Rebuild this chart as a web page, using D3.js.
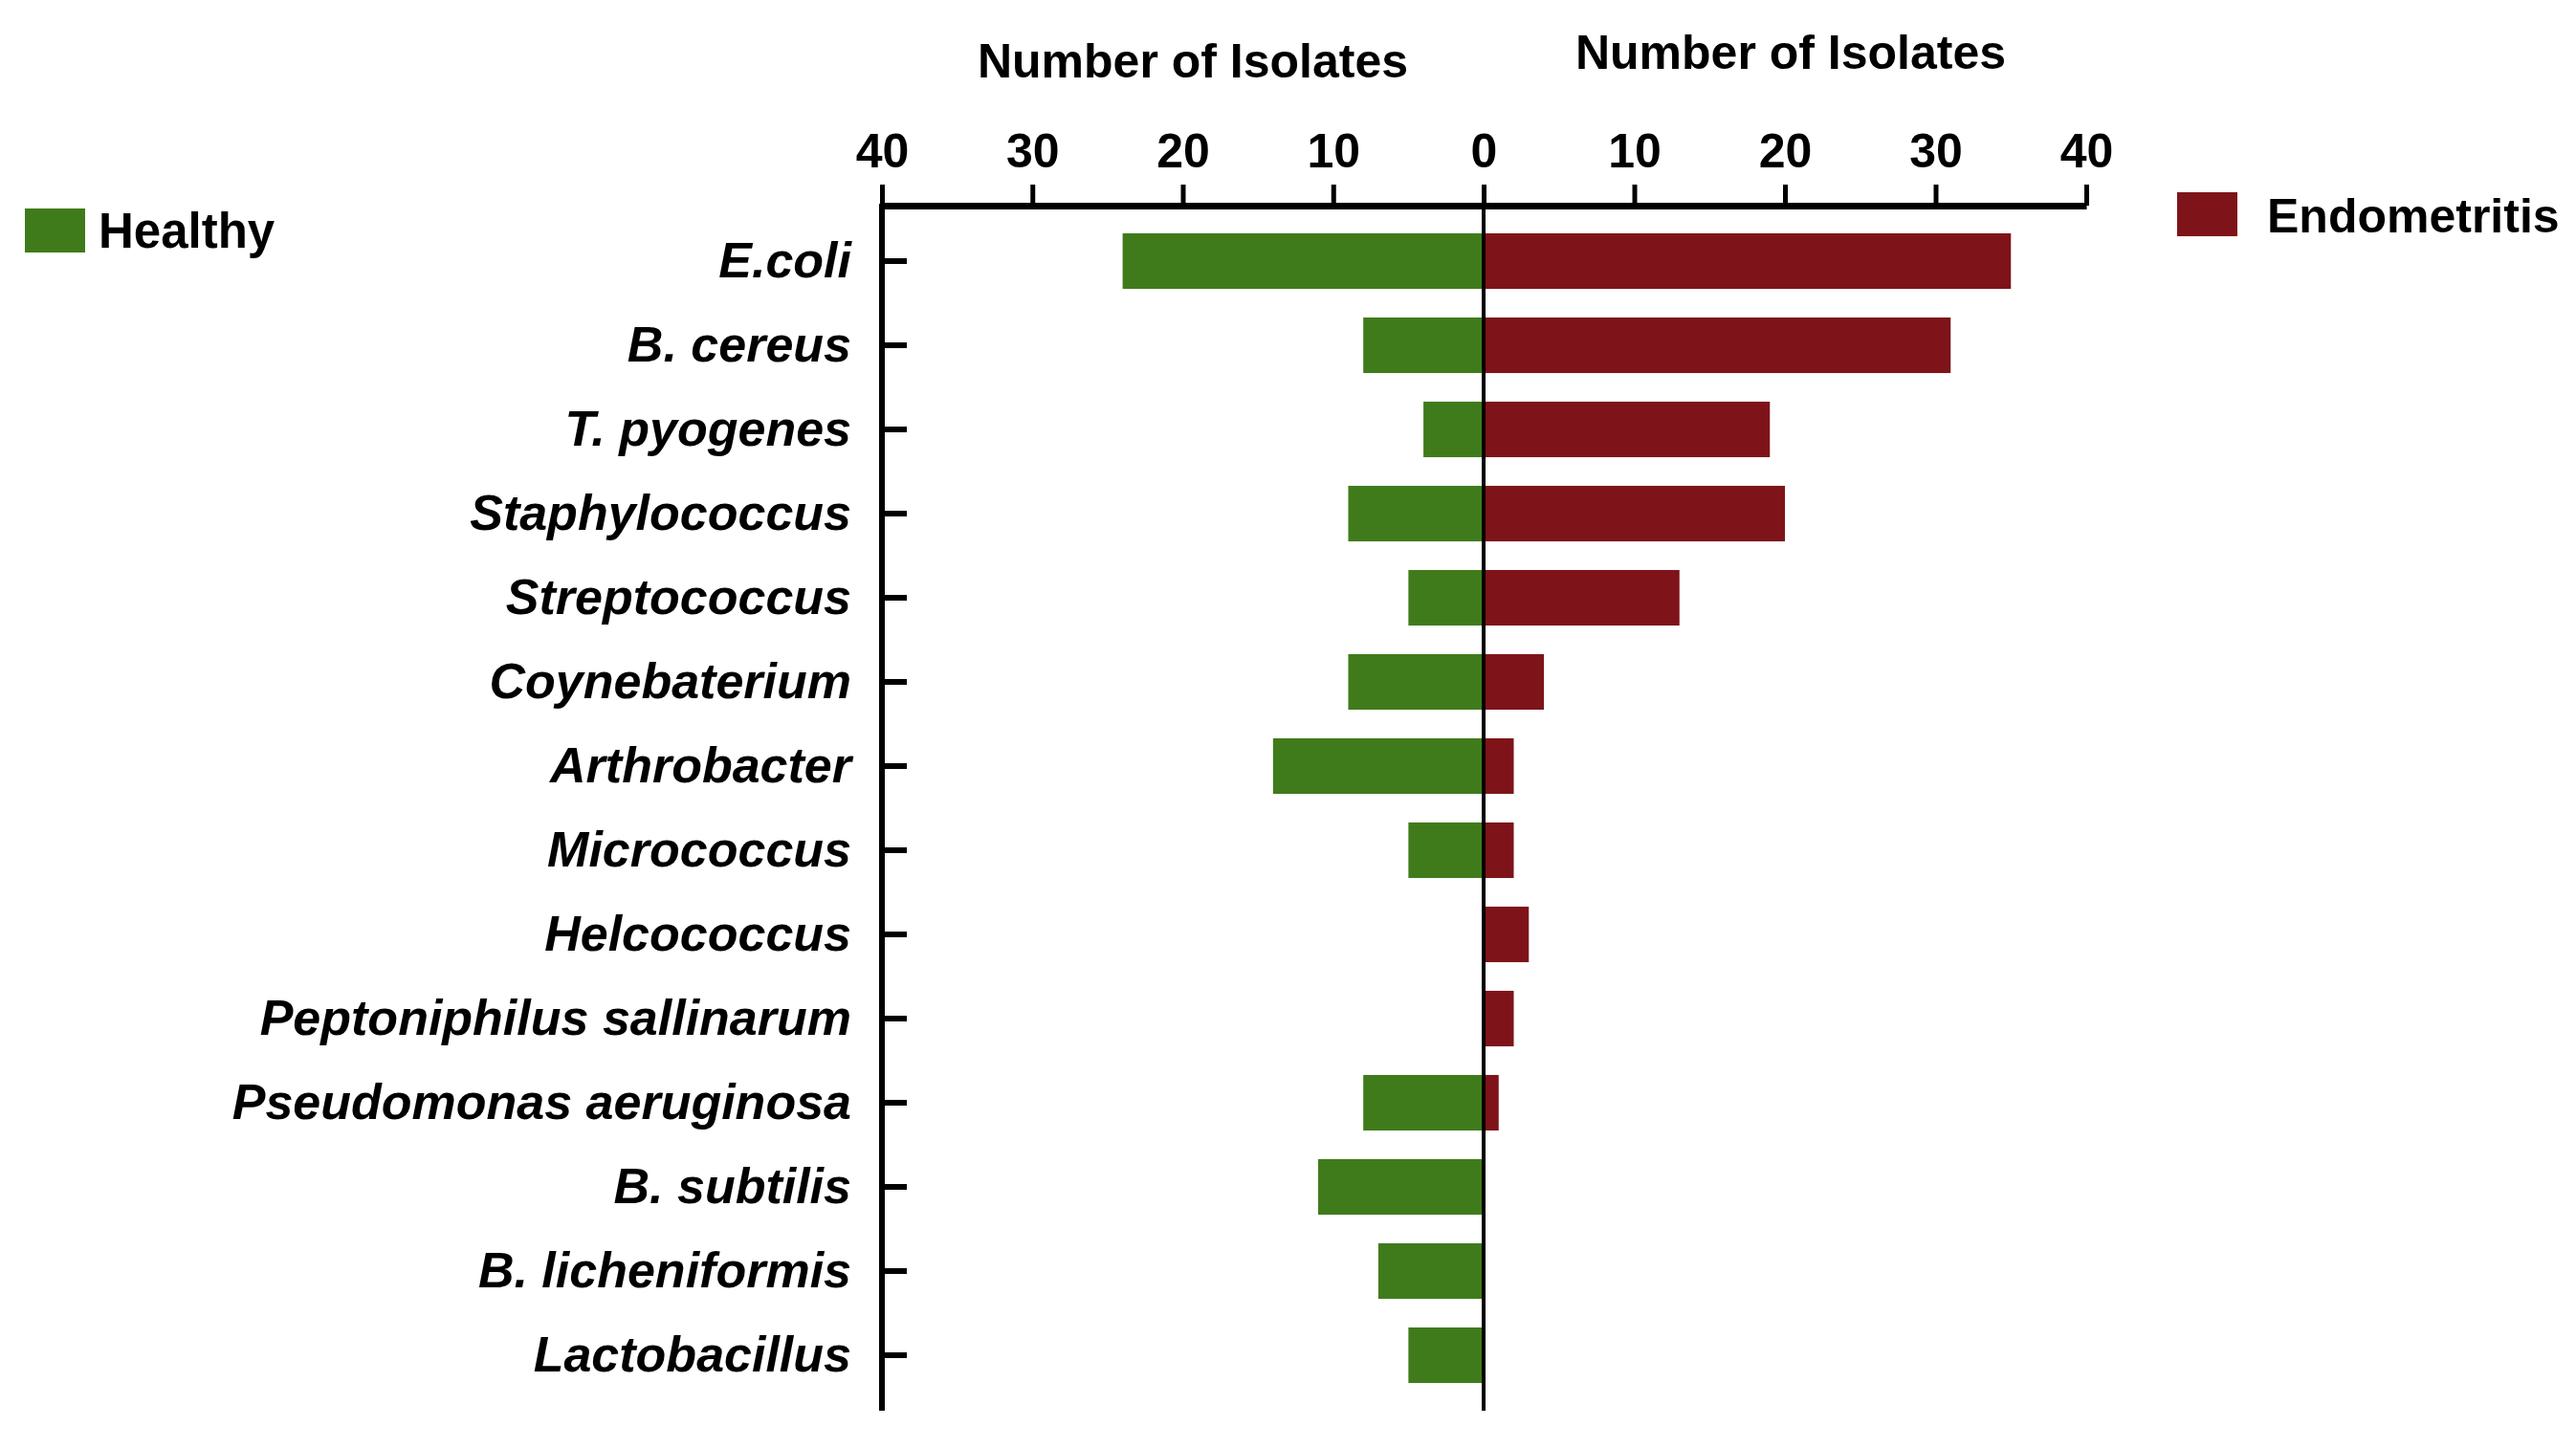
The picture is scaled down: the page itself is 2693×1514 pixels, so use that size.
<!DOCTYPE html>
<html>
<head>
<meta charset="utf-8">
<script src="https://cdn.jsdelivr.net/npm/d3@7"></script>
<style>
html,body{margin:0;padding:0;background:#fff;}
svg{display:block;}
text{font-family:"Liberation Sans",Arial,Helvetica,sans-serif;}
</style>
</head>
<body>
<svg id="chart" width="2693" height="1514"></svg>
<script>
const categories = ["E.coli","B. cereus","T. pyogenes","Staphylococcus","Streptococcus","Coynebaterium","Arthrobacter","Micrococcus","Helcococcus","Peptoniphilus sallinarum","Pseudomonas aeruginosa","B. subtilis","B. licheniformis","Lactobacillus"];
const healthy = [24, 8, 4, 9, 5, 9, 14, 5, 0, 0, 8, 11, 7, 5];
const endometritis = [35, 31, 19, 20, 13, 4, 2, 2, 3, 2, 1, 0, 0, 0];
const tickValues = [0, 10, 20, 30, 40];
const seriesNames = ["Healthy", "Endometritis"];
const axisTitle = "Number of Isolates";

const GREEN = "#3f7b1b", RED = "#7e1419";
const svg = d3.select("#chart");

const leftX = 922, zeroX = 1551, rightX = 2181;
const axisY = 215, bottomY = 1475;

const xL = d3.scaleLinear().domain([0, 40]).range([zeroX, leftX]);
const xR = d3.scaleLinear().domain([0, 40]).range([zeroX, rightX]);
const y = d3.scaleBand().domain(categories).range([229, 1461]).paddingInner(0.34).paddingOuter(0.17);

// bars
svg.append("g").selectAll("rect").data(categories).join("rect")
  .attr("x", (d,i) => xL(healthy[i]))
  .attr("y", d => y(d))
  .attr("width", (d,i) => zeroX - xL(healthy[i]))
  .attr("height", y.bandwidth())
  .attr("fill", GREEN);
svg.append("g").selectAll("rect").data(categories).join("rect")
  .attr("x", zeroX)
  .attr("y", d => y(d))
  .attr("width", (d,i) => xR(endometritis[i]) - zeroX)
  .attr("height", y.bandwidth())
  .attr("fill", RED);

// zero line
svg.append("line").attr("x1", xL(0)).attr("x2", xL(0)).attr("y1", axisY).attr("y2", bottomY)
  .attr("stroke", "#000").attr("stroke-width", 4);

// top axes
function styleAxis(g){
  g.select(".domain").attr("stroke","#000").attr("stroke-width",7);
  g.selectAll(".tick line").attr("stroke","#000").attr("stroke-width",5);
  g.selectAll(".tick text").attr("font-size",50).attr("font-weight","bold").attr("fill","#000")
    .attr("font-family","'Liberation Sans',Arial,sans-serif");
}
svg.append("g").attr("transform",`translate(0,${axisY})`)
  .call(d3.axisTop(xL).tickValues(tickValues).tickSize(22).tickSizeOuter(0).tickPadding(18))
  .call(styleAxis);
svg.append("g").attr("transform",`translate(0,${axisY})`)
  .call(d3.axisTop(xR).tickValues(tickValues.slice(1)).tickSize(22).tickSizeOuter(0).tickPadding(18))
  .call(styleAxis);

// left axis
const ya = svg.append("g").attr("transform",`translate(${leftX},0)`)
  .call(d3.axisLeft(y).tickSize(-26).tickSizeOuter(0).tickPadding(32));
ya.select(".domain").remove();
ya.selectAll(".tick line").attr("stroke","#000").attr("stroke-width",6);
ya.selectAll(".tick text").attr("font-size",52).attr("font-weight","bold").attr("font-style","italic")
  .attr("fill","#000").attr("font-family","'Liberation Sans',Arial,sans-serif");
svg.append("line").attr("x1", leftX).attr("x2", leftX).attr("y1", axisY - 2).attr("y2", bottomY)
  .attr("stroke","#000").attr("stroke-width",6);

// axis titles
svg.append("text").attr("x", 1247).attr("y", 81).attr("text-anchor","middle")
  .attr("font-size",50).attr("font-weight","bold").text(axisTitle);
svg.append("text").attr("x", 1872).attr("y", 72).attr("text-anchor","middle")
  .attr("font-size",50).attr("font-weight","bold").text(axisTitle);

// legends
svg.append("rect").attr("x",26).attr("y",218).attr("width",63).attr("height",46).attr("fill",GREEN);
svg.append("text").attr("x",103).attr("y",259).attr("font-size",51).attr("font-weight","bold").text(seriesNames[0]);
svg.append("rect").attr("x",2276).attr("y",201).attr("width",63).attr("height",46).attr("fill",RED);
svg.append("text").attr("x",2370).attr("y",243).attr("font-size",50).attr("font-weight","bold").text(seriesNames[1]);
</script>
</body>
</html>
